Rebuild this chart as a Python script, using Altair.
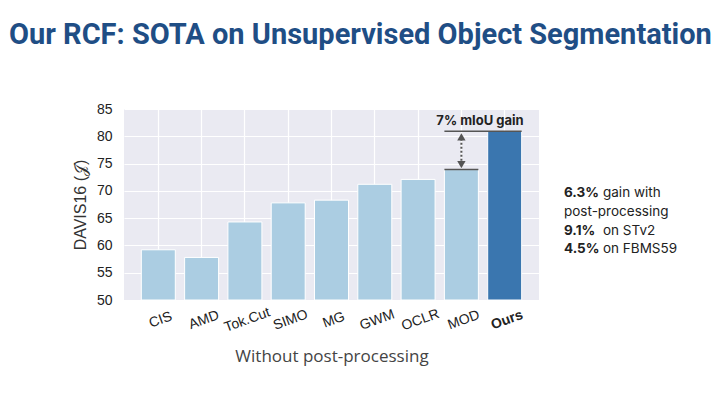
import altair as alt
import pandas as pd

methods = ["CIS", "AMD", "Tok.Cut", "SIMO", "MG", "GWM", "OCLR", "MOD", "Ours"]
scores = [59.2, 57.8, 64.3, 67.8, 68.3, 71.2, 72.1, 73.9, 80.9]
is_ours = [m == "Ours" for m in methods]
y_ticks = [50, 55, 60, 65, 70, 75, 80, 85]
y_floor = 50

gain_label = "7% mIoU gain"
side_bold = ["6.3%", "", "9.1%", "4.5%"]
side_normal = ["gain with", "post-processing", "on STv2", "on FBMS59"]

W, H = 415, 191

df = pd.DataFrame({"method": methods, "score": scores, "ours": is_ours, "base": [y_floor] * len(methods)})

x_enc = alt.X(
    "method:N",
    sort=methods,
    scale=alt.Scale(paddingInner=0.215, paddingOuter=0.4),
    axis=alt.Axis(
        title="Without post-processing",
        titleFont="Open Sans",
        titleFontSize=17,
        titleFontWeight="normal",
        titleColor="#444444",
        titlePadding=14,
        labelAngle=-20,
        labelAlign="center",
        labelBaseline="top",
        labelPadding=13,
        labelFont="Liberation Sans",
        labelFontSize=14,
        labelColor="#222222",
        labelFontWeight=alt.expr("datum.value == 'Ours' ? 'bold' : 'normal'"),
        labelOverlap=False,
        ticks=False,
        domain=False,
        grid=True,
        gridColor="white",
        gridWidth=1.2,
    ),
)
y_scale = alt.Scale(domain=[50, 85], nice=False, zero=False)
y_enc = alt.Y(
    "score:Q",
    scale=y_scale,
    axis=alt.Axis(
        title="DAVIS16 (𝒥)",
        titleFont="Liberation Sans",
        titleFontSize=16,
        titleFontWeight="normal",
        titleColor="#333333",
        titlePadding=8,
        values=y_ticks,
        labelFont="Liberation Sans",
        labelFontSize=14,
        labelColor="#222222",
        labelPadding=12,
        labelOverlap=False,
        ticks=False,
        domain=False,
        grid=True,
        gridColor="white",
        gridWidth=1.2,
    ),
)

bars = alt.Chart(df).mark_bar(stroke="white", strokeWidth=1).encode(
    x=x_enc,
    y=y_enc,
    y2="base:Q",
    color=alt.Color(
        "ours:N",
        scale=alt.Scale(domain=[False, True], range=["#abcde2", "#3a76af"]),
        legend=None,
    ),
)

# band geometry (from the scale settings) for the annotation
step = W / (len(methods) - 0.215 + 0.8)
start = (W - step * (len(methods) - 0.215)) / 2
bw = step * (1 - 0.215)
mod_left = start + 7 * step
mod_center = mod_left + bw / 2
ours_right = start + 8 * step + bw

mod_v = scores[methods.index("MOD")]
ours_v = scores[methods.index("Ours")]

ann = pd.DataFrame({"mod": [mod_v], "ours": [ours_v], "a": [mod_v + 0.9], "b": [ours_v - 1.0]})
base = alt.Chart(ann)


def yq(field):
    return alt.Y(f"{field}:Q", axis=None, scale=y_scale)


top_line = base.mark_rule(color="#555555", strokeWidth=1.5).encode(
    x=alt.value(mod_left), x2=alt.value(ours_right), y=yq("ours")
)
low_line = base.mark_rule(color="#555555", strokeWidth=1.5).encode(
    x=alt.value(mod_left), x2=alt.value(mod_left + bw), y=yq("mod")
)
arrow_shaft = base.mark_rule(color="#555555", strokeWidth=2, strokeDash=[2, 2]).encode(
    x=alt.value(mod_center), y=yq("a"), y2="b:Q"
)
arrow_up = base.mark_point(
    shape="triangle-up", filled=True, color="#555555", size=70, opacity=1
).encode(x=alt.value(mod_center), y=yq("b"))
arrow_down = base.mark_point(
    shape="triangle-down", filled=True, color="#555555", size=70, opacity=1
).encode(x=alt.value(mod_center), y=yq("a"))

gain_text = base.mark_text(
    font="Inter", fontSize=13, fontWeight="bold", color="#222222", align="center", baseline="middle",
    text=gain_label,
).encode(x=alt.value(356), y=alt.value(12))

side_y = [84, 103, 122, 140]
side_layers = []
for i in range(4):
    if side_bold[i]:
        side_layers.append(
            base.mark_text(
                font="Inter", fontSize=13.5, fontWeight="bold", color="#222222",
                align="left", baseline="middle", text=side_bold[i],
            ).encode(x=alt.value(440), y=alt.value(side_y[i]))
        )
        nx = 479
    else:
        nx = 440
    side_layers.append(
        base.mark_text(
            font="Inter", fontSize=13.5, color="#222222",
            align="left", baseline="middle", text=side_normal[i],
        ).encode(x=alt.value(nx), y=alt.value(side_y[i]))
    )

chart = (
    alt.layer(bars, top_line, low_line, arrow_shaft, arrow_up, arrow_down, gain_text, *side_layers)
    .resolve_axis(y="independent")
    .properties(
        width=W,
        height=H,
        background="white",
        autosize=alt.AutoSizeParams(type="none"),
        padding={"left": 116, "top": 101, "right": 173, "bottom": 90},
        title=alt.TitleParams(
            text="Our RCF: SOTA on Unsupervised Object Segmentation",
            font="Roboto",
            fontSize=29,
            fontWeight="bold",
            color="#1f4e85",
            anchor="start",
            frame="group",
            dx=-115,
            offset=52,
        ),
    )
    .configure_view(fill="#eaeaf2", stroke=None)
)

chart.save("out.html", embed_options={"renderer": "svg", "actions": False})
